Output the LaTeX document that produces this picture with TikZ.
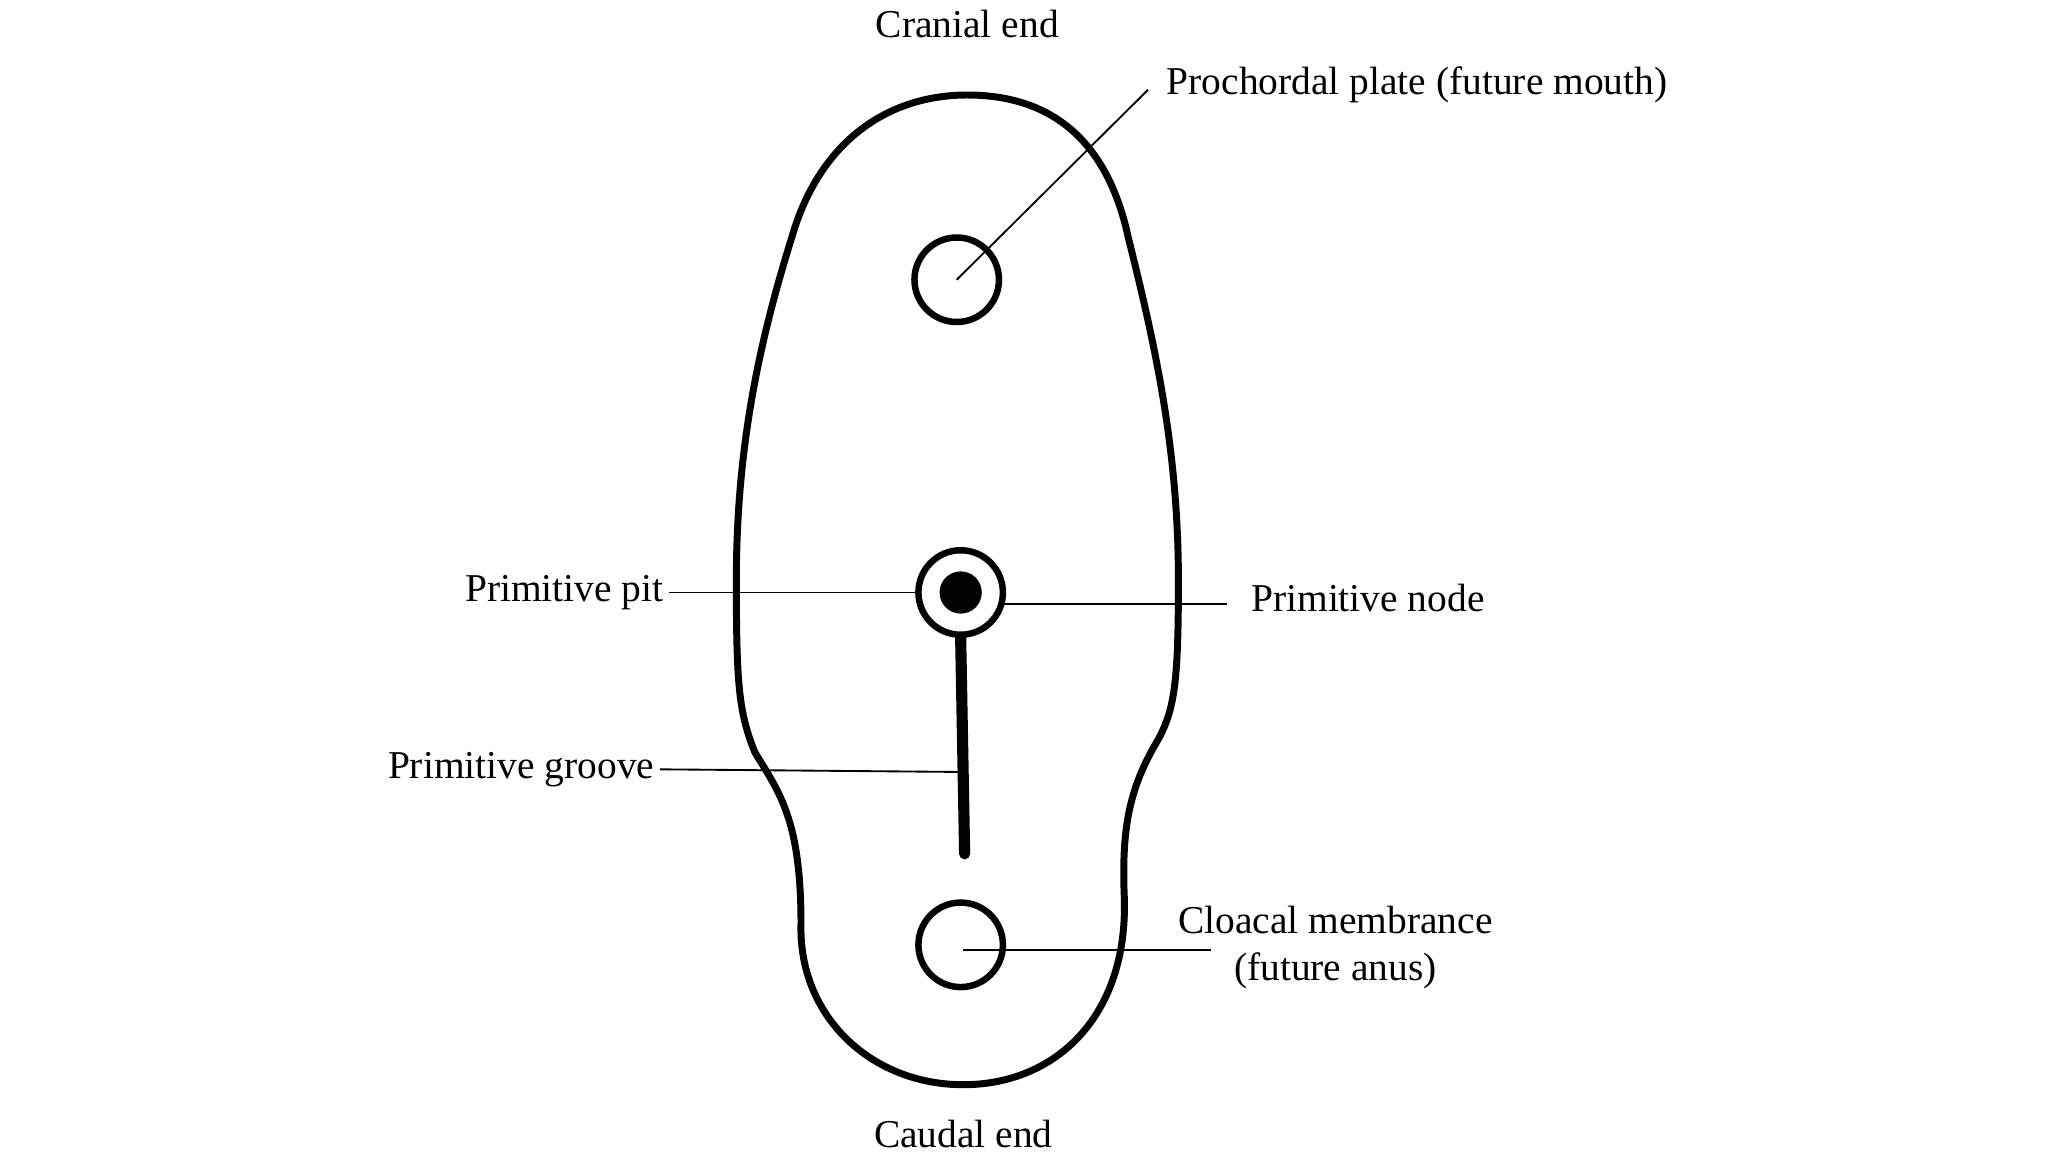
\documentclass[tikz,border=0pt]{standalone}
\usepackage{fontspec}
\setmainfont{Liberation Serif}
\usepackage{tikz}

\begin{document}
\begin{tikzpicture}[x=0.01cm,y=-0.01cm,
    lbl/.style={font=\fontsize{8.5}{10}\selectfont, inner sep=1pt},
    ring/.style={draw, circle, line width=1.4pt, minimum size=0.64cm, inner sep=0pt},
    lead/.style={line width=0.4pt}]

            \useasboundingbox (0,0) rectangle (1552,873);

            % embryo outline
            \draw [line width=1.5pt]
            (733,72) .. controls (800,72) and (840,110) .. (855,180)
            .. controls (875,260) and (893,340) .. (893,440)
            .. controls (893,520) and (890,540) .. (875,565)
            .. controls (855,600) and (850,630) .. (852,680)
            .. controls (855,770) and (800,822) .. (730,822)
            .. controls (660,822) and (605,770) .. (607,700)
            .. controls (607,620) and (590,600) .. (572,570)
            .. controls (560,540) and (558,520) .. (558,440)
            .. controls (558,340) and (575,260) .. (600,180)
            .. controls (620,110) and (670,72) .. (733,72) -- cycle;

            \node [ring] (plate) at (725,212) {};
            \node [ring] (pnode) at (728,449) {};
            \fill (pnode.center) circle (16);
            \node [ring] (cloaca) at (728,716) {};
            \coordinate (grooveend) at (731,647);
            \draw [line width=2.4pt, line cap=round] (pnode.south) -- (grooveend);

            \node [lbl] (cranial) at (733,18) {Cranial end};
            \node [lbl] (caudal) at (730,859) {Caudal end};
            \node [lbl, anchor=west] (platelbl) at (880,64) {Prochordal plate (future mouth)};
            \node [lbl, anchor=east] (pitlbl) at (507,449) {Primitive pit};
            \node [lbl, anchor=west] (nodelbl) at (944,453) {Primitive node};
            \node [lbl, anchor=east] (groovelbl) at (500,583) {Primitive groove};
            \node [lbl, align=center] (cloacalbl) at (1012,718) {Cloacal membrance\\(future anus)};

            \coordinate (grooveat) at (728,585);
            \draw [lead] (870,68) -- (plate.center);
            \draw [lead] (pitlbl.east) -- (pnode.west);
            \draw [lead] (760,458) -- (930,458);
            \draw [lead] (groovelbl.east) -- (grooveat);
            \draw [lead] (cloaca.center) ++(2,4) -- (918,720);

            \end{tikzpicture}
\end{document}
